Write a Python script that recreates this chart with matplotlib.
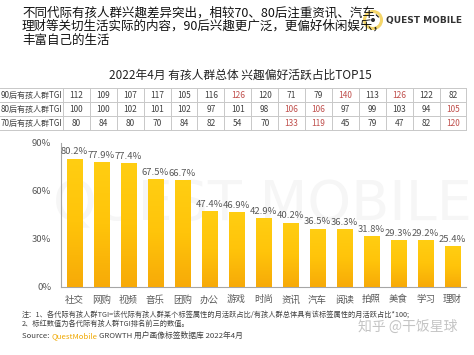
import numpy as np
import matplotlib
matplotlib.use('Agg')
import matplotlib.pyplot as plt
from matplotlib.colors import LinearSegmentedColormap
from matplotlib.patches import Circle

plt.rcParams['font.family'] = ['Noto Sans CJK SC', 'DejaVu Sans']

# data
categories = ['社交', '网购', '视频', '音乐', '团购', '办公', '游戏', '时尚',
              '资讯', '汽车', '阅读', '拍照', '美食', '学习', '理财']
active_share = [80.2, 77.9, 77.4, 67.5, 66.7, 47.4, 46.9, 42.9,
                40.2, 36.5, 36.3, 31.8, 29.3, 29.2, 25.4]
row_labels = ['90后有孩人群TGI', '80后有孩人群TGI', '70后有孩人群TGI']
tgi_90 = [112, 109, 107, 117, 105, 116, 126, 120, 71, 79, 140, 113, 126, 122, 82]
tgi_80 = [100, 100, 102, 101, 102, 97, 101, 98, 106, 106, 97, 99, 103, 94, 105]
tgi_70 = [80, 84, 80, 70, 84, 82, 54, 70, 133, 119, 45, 79, 47, 82, 120]
y_ticks = [0, 30, 60, 90]

title_lines = ['不同代际有孩人群兴趣差异突出，相较70、80后注重资讯、汽车、',
               '理财等关切生活实际的内容，90后兴趣更广泛，更偏好休闲娱乐，',
               '丰富自己的生活']
chart_title = '2022年4月 有孩人群总体 兴趣偏好活跃占比TOP15'

W, H = 474, 355
fig = plt.figure(figsize=(W / 100, H / 100), dpi=100)
fig.patch.set_facecolor('white')

# overlay in pixel coordinates for table and text
ov = fig.add_axes([0, 0, 1, 1], zorder=0)
ov.set_xlim(0, W)
ov.set_ylim(H, 0)
ov.axis('off')

# faint background watermark
ov.text(262, 205, 'QUEST MOBILE', fontsize=40, color='#f6f6f6', ha='center',
        va='center', family='DejaVu Sans', zorder=0)

# headline
for k, line in enumerate(title_lines):
    ov.text(22, 13 + k * 13.5, line, fontsize=9.0, color='#111111', va='center', ha='left')

# logo
ov.add_patch(Circle((373, 20), 8.5, fill=False, ec='#F5D66A', lw=2.2))
ov.add_patch(Circle((373, 20), 1.3, color='#333333'))
ov.text(386, 20, 'QUEST MOBILE', fontsize=6.5, color='#333333', va='center',
        ha='left', family='DejaVu Sans', fontweight='bold')

# chart title
ov.text(240, 75, chart_title, fontsize=8.5, color='#222222', ha='center', va='center')

# table
col_left, col_w = 63, 26.9
row_top, row_h = 88, 14
grid_c = '#c8c8c8'
n = len(categories)
for r in range(4):
    y = row_top + r * row_h
    ov.plot([0, col_left + n * col_w], [y, y], color=grid_c, lw=0.7)
for c in range(n + 1):
    x = col_left + c * col_w
    ov.plot([x, x], [row_top, row_top + 3 * row_h], color=grid_c, lw=0.7)

for r, vals in enumerate([tgi_90, tgi_80, tgi_70]):
    yc = row_top + (r + 0.5) * row_h
    ov.text(col_left - 1, yc, row_labels[r], fontsize=5.8, color='#404040',
            ha='right', va='center')
    third = sorted(vals, reverse=True)[2]
    for c, v in enumerate(vals):
        col = '#C0504D' if v >= third else '#404040'
        ov.text(col_left + (c + 0.5) * col_w, yc, str(v), fontsize=6, color=col,
                ha='center', va='center')

# notes and source
ov.text(22, 315, '注：1、各代际有孩人群TGI=该代际有孩人群某个标签属性的月活跃占比/有孩人群总体具有该标签属性的月活跃占比*100;',
        fontsize=5.2, color='#404040', va='center')
ov.text(22, 324, '2、标红数值为各代际有孩人群TGI排名前三的数值。', fontsize=5.2,
        color='#404040', va='center')
t1 = ov.text(22, 336, 'Source: ', fontsize=5.6, color='#404040', va='center')
fig.canvas.draw()
bb = t1.get_window_extent()
t2 = ov.text(bb.x1, H - 336, 'QuestMobile', fontsize=5.6, color='#F0A800', va='center',
             transform=None)
fig.canvas.draw()
bb2 = t2.get_window_extent()
ov.text(bb2.x1 + 2, H - 336, 'GROWTH 用户画像标签数据库 2022年4月', fontsize=5.6,
        color='#404040', va='center', transform=None)

ov.text(408, 327, '知乎 @干饭星球', fontsize=10, color='#c4c4c4', ha='center', va='center')

# bar chart
ax = fig.add_axes([61 / W, (H - 287) / H, (466 - 61) / W, (287 - 143) / H], zorder=1)
ax.patch.set_alpha(0)
x = np.arange(n)
bars = ax.bar(x, active_share, width=0.56, color='#FFC20A', zorder=2)

cmap = LinearSegmentedColormap.from_list('gold', ['#F7AA08', '#FFC40A', '#FFCE12'])
grad = np.linspace(0, 1, 256).reshape(-1, 1)
for b in bars:
    x0, w, h = b.get_x(), b.get_width(), b.get_height()
    im = ax.imshow(grad, extent=(x0, x0 + w, 0, h), origin='lower', cmap=cmap,
                   aspect='auto', zorder=3)
    im.set_clip_path(b)

for xi, v in zip(x, active_share):
    ax.text(xi, v + 1.5, f'{v}%', ha='center', va='bottom', fontsize=6.8,
            color='#595959', zorder=4)

ax.set_xlim(-0.5, n - 0.5)
ax.set_ylim(0, 90)
ax.set_yticks(y_ticks)
ax.set_yticklabels([f'{t}%' for t in y_ticks])
ax.set_xticks(x)
ax.set_xticklabels(categories)
ax.tick_params(axis='both', length=0, labelsize=6.8, colors='#595959')
ax.tick_params(axis='x', pad=6)
ax.tick_params(axis='y', pad=7)
for s in ['top', 'right']:
    ax.spines[s].set_visible(False)
for s in ['left', 'bottom']:
    ax.spines[s].set_color('#a6a6a6')
    ax.spines[s].set_linewidth(0.8)

fig.savefig('out.png', dpi=100, facecolor='white')
